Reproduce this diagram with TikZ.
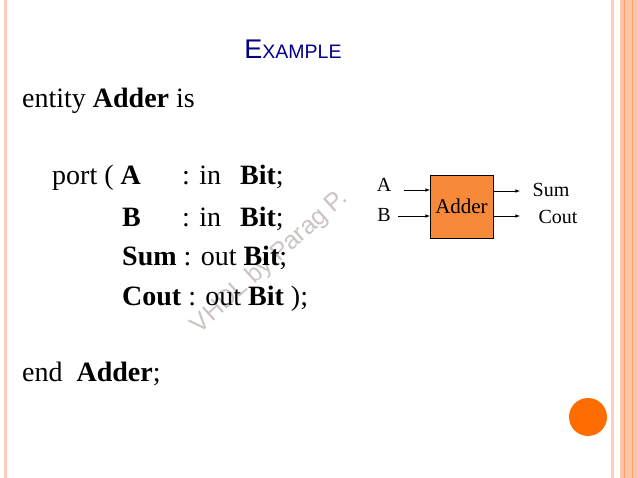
\documentclass[tikz,border=0pt]{standalone}
\usepackage{fontspec}
\setmainfont{Liberation Serif}
\setsansfont{Liberation Sans}
\definecolor{boxor}{RGB}{247,138,58}
\definecolor{wmc}{RGB}{205,195,195}
\begin{document}
\begin{tikzpicture}[x=1pt,y=-1pt,
  code/.style={anchor=base west,inner sep=0,font=\fontsize{28}{32}\selectfont},
  lbl/.style={inner sep=0,font=\fontsize{20}{24}\selectfont},
  arr/.style={-latex,line width=0.6pt}]
\useasboundingbox (0,0) rectangle (638,478);
\fill[white] (0,0) rectangle (638,478);
% borders
\fill[orange!25!pink!60] (4,0) rectangle (7,478);
\fill[orange!25!pink!60] (611,0) rectangle (614,478);
\fill[orange!30!pink!70] (620,0) rectangle (638,478);
\draw[orange!45!pink,line width=1pt] (624,0) -- (624,478);
\draw[orange!45!pink,line width=1pt] (632,0) -- (632,478);
% title
\node[inner sep=0,anchor=base,text=blue!55!black,font=\sffamily] (title) at (293,59)
  {\fontsize{27}{30}\selectfont E\fontsize{19.5}{22}\selectfont XAMPLE};
% watermark
\node[rotate=42,text=wmc,font=\sffamily\fontsize{25}{30}\selectfont,inner sep=0] (wm) at (270,262) {VHDL by Parag P.};
% code
\node[code] (l1) at (22,108) {entity \textbf{Adder} is};
\node[code] (l2) at (52,185) {port ( \textbf{A}};
\node[code] (l2b) at (182,185) {: in};
\node[code] (l2c) at (240,185) {\textbf{Bit};};
\node[code] (l3) at (122,227) {\textbf{B}};
\node[code] (l3b) at (182,227) {: in};
\node[code] (l3c) at (240,227) {\textbf{Bit};};
\node[code] (l4) at (122,266) {\textbf{Sum} : out \textbf{Bit};};
\node[code] (l5) at (122,306) {\textbf{Cout} : out \textbf{Bit} );};
\node[code] (l6) at (22,382) {end\ \ \textbf{Adder};};
% adder block
\node[draw,fill=boxor,minimum width=63pt,minimum height=63pt,inner sep=0,
  line width=0.6pt,font=\fontsize{21}{24}\selectfont] (adder) at (461.5,206.5) {Adder};
\node[lbl] (A) at (384,185) {A};
\node[lbl] (B) at (384,215) {B};
\node[lbl] (S) at (551,190) {Sum};
\node[lbl] (C) at (558,217) {Cout};
\coordinate (ai) at (430,190);
\coordinate (bi) at (430,216);
\draw[arr] (404,190) -- (ai);
\draw[arr] (398,216) -- (bi);
\coordinate (so) at (520,191);
\coordinate (co) at (520,216);
\draw[arr] (adder.east |- so) -- (so);
\draw[arr] (adder.east |- co) -- (co);
% circle
\fill[orange!85!red] (588,417) circle (19);
\end{tikzpicture}
\end{document}
